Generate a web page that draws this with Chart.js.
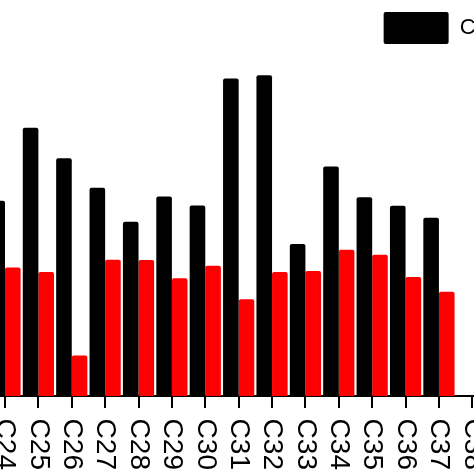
<!DOCTYPE html>
<html>
<head>
<meta charset="utf-8">
<script src="https://cdn.jsdelivr.net/npm/chart.js@4.4.0/dist/chart.umd.min.js"></script>
<style>
  html, body { margin: 0; padding: 0; background: #fff; overflow: hidden; width: 474px; height: 474px; }
  #wrap { position: absolute; left: -62px; top: 0; }
</style>
</head>
<body>
<div id="wrap"><canvas id="output" width="788" height="490"></canvas></div>
<script>
// chain lengths shown in the visible part of the figure
const labels = ['C24', 'C25', 'C26', 'C27', 'C28', 'C29', 'C30', 'C31', 'C32', 'C33', 'C34', 'C35', 'C36', 'C37', 'C38'];

// values (C38 has no bar)
const controlValues = [62.8, 86.3, 76.5, 67.0, 56.0, 64.2, 61.3, 102.1, 103.2, 48.9, 73.8, 63.9, 61.2, 57.3, null];
const treatValues = [41.3, 39.9, 13.0, 43.8, 43.7, 37.9, 41.9, 31.1, 39.9, 40.2, 47.0, 45.4, 38.3, 33.5, null];

const seriesNames = ['Control', 'Treatment'];

Chart.defaults.font.family = '"Liberation Sans", Arial, sans-serif';
Chart.defaults.color = '#000';

const ctx = document.getElementById('output').getContext('2d');

const chart = new Chart(ctx, {
    type: 'bar',
    data: {
        labels: labels,
        datasets: [{
            label: seriesNames[0],
            data: controlValues,
            backgroundColor: '#000000',
            borderWidth: 0,
            borderRadius: 2
        }, {
            label: seriesNames[1],
            data: treatValues,
            backgroundColor: '#ff0000',
            borderWidth: 0,
            borderRadius: 2
        }]
    },
    options: {
        responsive: false,
        animation: false,
        categoryPercentage: 0.935,
        barPercentage: 1,
        layout: {
            padding: { left: 50.31, top: 2, right: 0, bottom: 9.4 }
        },
        plugins: {
            tooltip: { enabled: false },
            legend: {
                position: 'top',
                align: 'end',
                labels: {
                    boxWidth: 65,
                    boxHeight: 32,
                    padding: 10,
                    useBorderRadius: true,
                    borderRadius: 2,
                    color: '#000',
                    font: { size: 22 }
                }
            }
        },
        scales: {
            x: {
                offset: true,
                grid: {
                    offset: false,
                    drawOnChartArea: false,
                    drawTicks: true,
                    tickLength: 12,
                    color: '#000',
                    lineWidth: 2
                },
                border: { color: '#000', width: 2 },
                ticks: {
                    autoSkip: false,
                    // negative rotation turns the labels clockwise, reading downwards
                    minRotation: -90,
                    maxRotation: -90,
                    padding: 62,
                    color: '#000',
                    font: { size: 28 }
                }
            },
            y: {
                position: 'right',
                min: 0,
                max: 110,
                ticks: { display: false },
                grid: { display: false },
                border: { display: false },
                afterFit: (scale) => { scale.width = 236.99; }
            }
        }
    }
});
</script>
</body>
</html>
